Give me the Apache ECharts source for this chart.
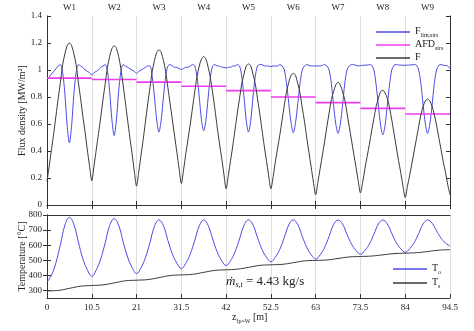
<!DOCTYPE html>
<html><head><meta charset="utf-8">
<script src="https://cdn.jsdelivr.net/npm/echarts@6/dist/echarts.min.js"></script>
<style>html,body{margin:0;padding:0;background:#fff}#c{width:474px;height:331px}</style>
</head><body><div id="c"></div>
<script>
// ---- data ----
const segLabels = ['W1','W2','W3','W4','W5','W6','W7','W8','W9'];
const segEdges = [0, 10.5, 21, 31.5, 42, 52.5, 63, 73.5, 84, 94.5];
const tempTicks = [300, 400, 500, 600, 700, 800];

// flux series sampled every 0.525 m (20 samples per segment)
const fluxStep = 0.525;
const fluxF = [
 0.175,0.29,0.41,0.53,0.66,0.79,0.91,1.04,1.12,1.18,1.20,1.18,1.12,1.04,0.91,0.79,0.66,0.54,0.41,0.29,
 0.18,0.29,0.41,0.53,0.65,0.78,0.90,1.02,1.10,1.16,1.18,1.16,1.10,1.01,0.89,0.76,0.63,0.50,0.38,0.25,
 0.14,0.25,0.37,0.49,0.62,0.75,0.87,0.99,1.07,1.13,1.15,1.13,1.07,0.99,0.87,0.75,0.63,0.51,0.39,0.27,
 0.16,0.26,0.38,0.49,0.60,0.72,0.84,0.95,1.03,1.08,1.10,1.08,1.02,0.94,0.83,0.71,0.58,0.46,0.35,0.23,
 0.12,0.22,0.33,0.44,0.56,0.68,0.79,0.90,0.97,1.03,1.045,1.03,0.97,0.90,0.79,0.68,0.56,0.44,0.33,0.22,
 0.12,0.21,0.32,0.42,0.52,0.63,0.74,0.84,0.91,0.96,0.975,0.96,0.90,0.83,0.72,0.62,0.50,0.39,0.28,0.17,
 0.075,0.17,0.27,0.37,0.47,0.58,0.68,0.78,0.84,0.89,0.91,0.89,0.84,0.78,0.68,0.58,0.48,0.38,0.28,0.18,
 0.09,0.17,0.27,0.36,0.45,0.55,0.64,0.73,0.79,0.84,0.85,0.83,0.79,0.72,0.63,0.53,0.43,0.33,0.24,0.14,
 0.055,0.14,0.22,0.31,0.40,0.49,0.58,0.67,0.73,0.77,0.785,0.77,0.73,0.67,0.59,0.50,0.41,0.32,0.24,0.15,
 0.075
];
const fluxLim = [
 0.93,0.95,0.97,0.99,1.01,1.03,1.04,0.98,0.82,0.59,0.46,0.59,0.82,0.98,1.04,1.03,1.02,1.00,0.99,0.98,
 0.963,0.98,0.99,1.00,1.02,1.03,1.04,0.99,0.84,0.63,0.515,0.63,0.84,0.99,1.04,1.03,1.02,1.01,1.00,0.99,
 0.975,0.99,1.00,1.01,1.02,1.03,1.03,0.95,0.80,0.63,0.54,0.63,0.80,0.95,1.03,1.04,1.03,1.02,1.02,1.01,
 1.005,1.01,1.02,1.02,1.03,1.04,1.03,0.95,0.80,0.63,0.55,0.63,0.80,0.95,1.03,1.04,1.03,1.03,1.02,1.02,
 1.015,1.02,1.02,1.03,1.03,1.04,1.03,0.95,0.80,0.625,0.54,0.625,0.80,0.95,1.03,1.04,1.04,1.03,1.03,1.03,
 1.025,1.03,1.03,1.03,1.04,1.03,1.00,0.90,0.75,0.61,0.535,0.61,0.75,0.90,1.00,1.03,1.04,1.035,1.03,1.03,
 1.03,1.03,1.03,1.035,1.04,1.03,1.00,0.90,0.74,0.60,0.53,0.60,0.74,0.90,1.00,1.03,1.04,1.04,1.035,1.03,
 1.033,1.035,1.035,1.037,1.04,1.035,1.00,0.89,0.74,0.59,0.52,0.59,0.74,0.89,1.00,1.035,1.04,1.037,1.036,1.035,
 1.035,1.036,1.037,1.038,1.04,1.035,1.00,0.90,0.74,0.60,0.53,0.60,0.74,0.90,1.00,1.035,1.04,1.035,1.033,1.03,
 1.01
];
// AFD per segment
const afdStrs = [0.94, 0.93, 0.91, 0.88, 0.847, 0.80, 0.758, 0.716, 0.674];

// temperatures
const toStep = 1.05;
const tempTo = [
 355,402,484,604,733,785,738,621,511,437,
 394,436,509,616,730,776,732,623,521,452,
 412,451,519,618,725,768,729,632,542,481,
 445,480,542,632,728,767,731,640,556,498,
 465,498,556,641,732,768,735,651,573,521,
 490,521,573,651,735,768,737,659,586,537,
 508,536,586,658,736,767,740,672,608,565,
 540,565,608,672,740,767,741,677,617,577,
 553,577,617,677,741,767,746,695,647,614,
 595
];
const tsStep = 2.625;
const tempTs = [
 297,300,314,328, 333,337,350,364, 368,372,385,399, 403,407,420,433,
 437,441,453,466, 470,473,484,496, 499,502,512,522, 525,528,536,544,
 547,550,558,567, 570
];

// ---- chart ----
const FONT = '"Liberation Serif","DejaVu Serif",serif';
const TXT = '#222';
const AX = '#333';
const pair = (arr, step) => arr.map((v, i) => [Math.round(i * step * 10000) / 10000, v]);
const afdData = [];
afdStrs.forEach((v, i) => {
  afdData.push([segEdges[i], v], [segEdges[i + 1], v]);
  if (i < afdStrs.length - 1) afdData.push([segEdges[i + 1], '-']);
});

const rich = {
  m: {fontFamily: FONT, fontSize: 10, color: TXT, lineHeight: 12, verticalAlign: 'top'},
  s: {fontFamily: FONT, fontSize: 6, color: TXT, lineHeight: 6, verticalAlign: 'bottom', padding: [6, 0, 0, 0]}
};
const legendNames = {
  Flim: '{m|F}{s|lim,strs}', AFD: '{m|AFD}{s|strs}', F: '{m|F}',
  To: '{m|T}{s|o}', Ts: '{m|T}{s|s}'
};

const axisLine = {show: true, lineStyle: {color: AX, width: 1}};
const tickIn = {show: true, inside: true, length: 4, lineStyle: {color: AX}};
const grid = {show: true, lineStyle: {color: '#dedede', width: 1}};
const legendCommon = {orient: 'vertical', padding: 0, itemWidth: 34, itemHeight: 1.3, icon: 'rect',
  formatter: n => legendNames[n], textStyle: {rich}};

const option = {
  animation: false,
  backgroundColor: '#fff',
  textStyle: {fontFamily: FONT},
  grid: [
    {left: 47, right: 24, top: 16, height: 189},
    {left: 47, right: 24, top: 215, height: 83}
  ],
  xAxis: [
    {gridIndex: 0, type: 'value', min: 0, max: 94.5, interval: 10.5, position: 'bottom',
     axisLine, axisTick: tickIn, axisLabel: {show: false}, splitLine: grid},
    {gridIndex: 0, type: 'category', data: segLabels, position: 'top', boundaryGap: true,
     axisLine, axisTick: tickIn,
     axisLabel: {fontFamily: FONT, fontSize: 9, color: TXT, margin: 4}, splitLine: {show: false}},
    {gridIndex: 1, type: 'value', min: 0, max: 94.5, interval: 10.5, position: 'bottom',
     axisLine, axisTick: tickIn,
     axisLabel: {fontFamily: FONT, fontSize: 9, color: TXT, margin: 5}, splitLine: grid},
    {gridIndex: 1, type: 'value', min: 0, max: 94.5, interval: 10.5, position: 'top',
     axisLine, axisTick: {show: false}, axisLabel: {show: false}, splitLine: {show: false}}
  ],
  yAxis: [
    {gridIndex: 0, type: 'value', min: 0, max: 1.4, interval: 0.2, position: 'left',
     axisLine, axisTick: tickIn, splitLine: {show: false},
     axisLabel: {fontFamily: FONT, fontSize: 9, color: TXT, margin: 5},
     name: 'Flux density [MW/m²]', nameLocation: 'middle', nameGap: 20, nameMoveOverlap: false,
     nameTextStyle: {fontFamily: FONT, fontSize: 10, color: TXT}},
    {gridIndex: 0, type: 'value', min: 0, max: 1.4, interval: 0.2, position: 'right',
     axisLine, axisTick: tickIn, axisLabel: {show: false}, splitLine: {show: false}},
    {gridIndex: 1, type: 'value', min: 250, max: 800, position: 'left',
     axisLine, axisTick: Object.assign({customValues: tempTicks}, tickIn), splitLine: {show: false},
     axisLabel: {customValues: tempTicks, fontFamily: FONT, fontSize: 9, color: TXT, margin: 5},
     name: 'Temperature [°C]', nameLocation: 'middle', nameGap: 20, nameMoveOverlap: false,
     nameTextStyle: {fontFamily: FONT, fontSize: 10, color: TXT}},
    {gridIndex: 1, type: 'value', min: 250, max: 800, position: 'right',
     axisLine, axisTick: Object.assign({customValues: tempTicks}, tickIn),
     axisLabel: {show: false}, splitLine: {show: false}}
  ],
  legend: [
    Object.assign({data: ['Flim', 'AFD', 'F'], left: 376, top: 26, itemGap: 1}, legendCommon),
    Object.assign({data: ['To', 'Ts'], left: 393, top: 263, itemGap: 2}, legendCommon)
  ],
  series: [
    {name: 'Flim', type: 'line', xAxisIndex: 0, yAxisIndex: 0, data: pair(fluxLim, fluxStep),
     symbol: 'none', smooth: 0.3, lineStyle: {color: '#4b4be6', width: 1}, itemStyle: {color: '#4b4be6'}},
    {name: 'AFD', type: 'line', xAxisIndex: 0, yAxisIndex: 0, data: afdData, connectNulls: false,
     symbol: 'none', lineStyle: {color: '#f03cf0', width: 1.6}, itemStyle: {color: '#f03cf0'}},
    {name: 'F', type: 'line', xAxisIndex: 0, yAxisIndex: 0, data: pair(fluxF, fluxStep),
     symbol: 'none', smooth: 0.3, lineStyle: {color: '#3a3a3a', width: 1}, itemStyle: {color: '#3a3a3a'}},
    {name: 'To', type: 'line', xAxisIndex: 2, yAxisIndex: 2, data: pair(tempTo, toStep),
     symbol: 'none', smooth: 0.4, lineStyle: {color: '#4b4be6', width: 1}, itemStyle: {color: '#4b4be6'}},
    {name: 'Ts', type: 'line', xAxisIndex: 2, yAxisIndex: 2, data: pair(tempTs, tsStep),
     symbol: 'none', smooth: 0.4, lineStyle: {color: '#3a3a3a', width: 1}, itemStyle: {color: '#3a3a3a'}}
  ],
  graphic: [
    {type: 'text', left: 226, top: 274, z: 10, style: {
      text: '{i|ṁ}{is|s,t}{n| = 4.43 kg/s}',
      rich: {
        i: {fontFamily: FONT, fontSize: 13, fontStyle: 'italic', fill: TXT, lineHeight: 14, verticalAlign: 'top'},
        is: {fontFamily: FONT, fontSize: 8, fontStyle: 'italic', fill: TXT, lineHeight: 8, verticalAlign: 'bottom', padding: [7, 0, 0, 0]},
        n: {fontFamily: FONT, fontSize: 13, fill: TXT, lineHeight: 14, verticalAlign: 'top'}
      }}},
    {type: 'text', left: 232, top: 312, z: 10, style: {
      text: '{n|z}{s|fp=W}{n| [m]}',
      rich: {
        n: {fontFamily: FONT, fontSize: 10, fill: TXT, lineHeight: 12, verticalAlign: 'top'},
        s: {fontFamily: FONT, fontSize: 6, fill: TXT, lineHeight: 6, verticalAlign: 'bottom', padding: [6, 0, 0, 0]}
      }}}
  ]
};
const chart = echarts.init(document.getElementById('c'), null, {renderer: 'canvas'});
chart.setOption(option);
</script>
</body></html>
